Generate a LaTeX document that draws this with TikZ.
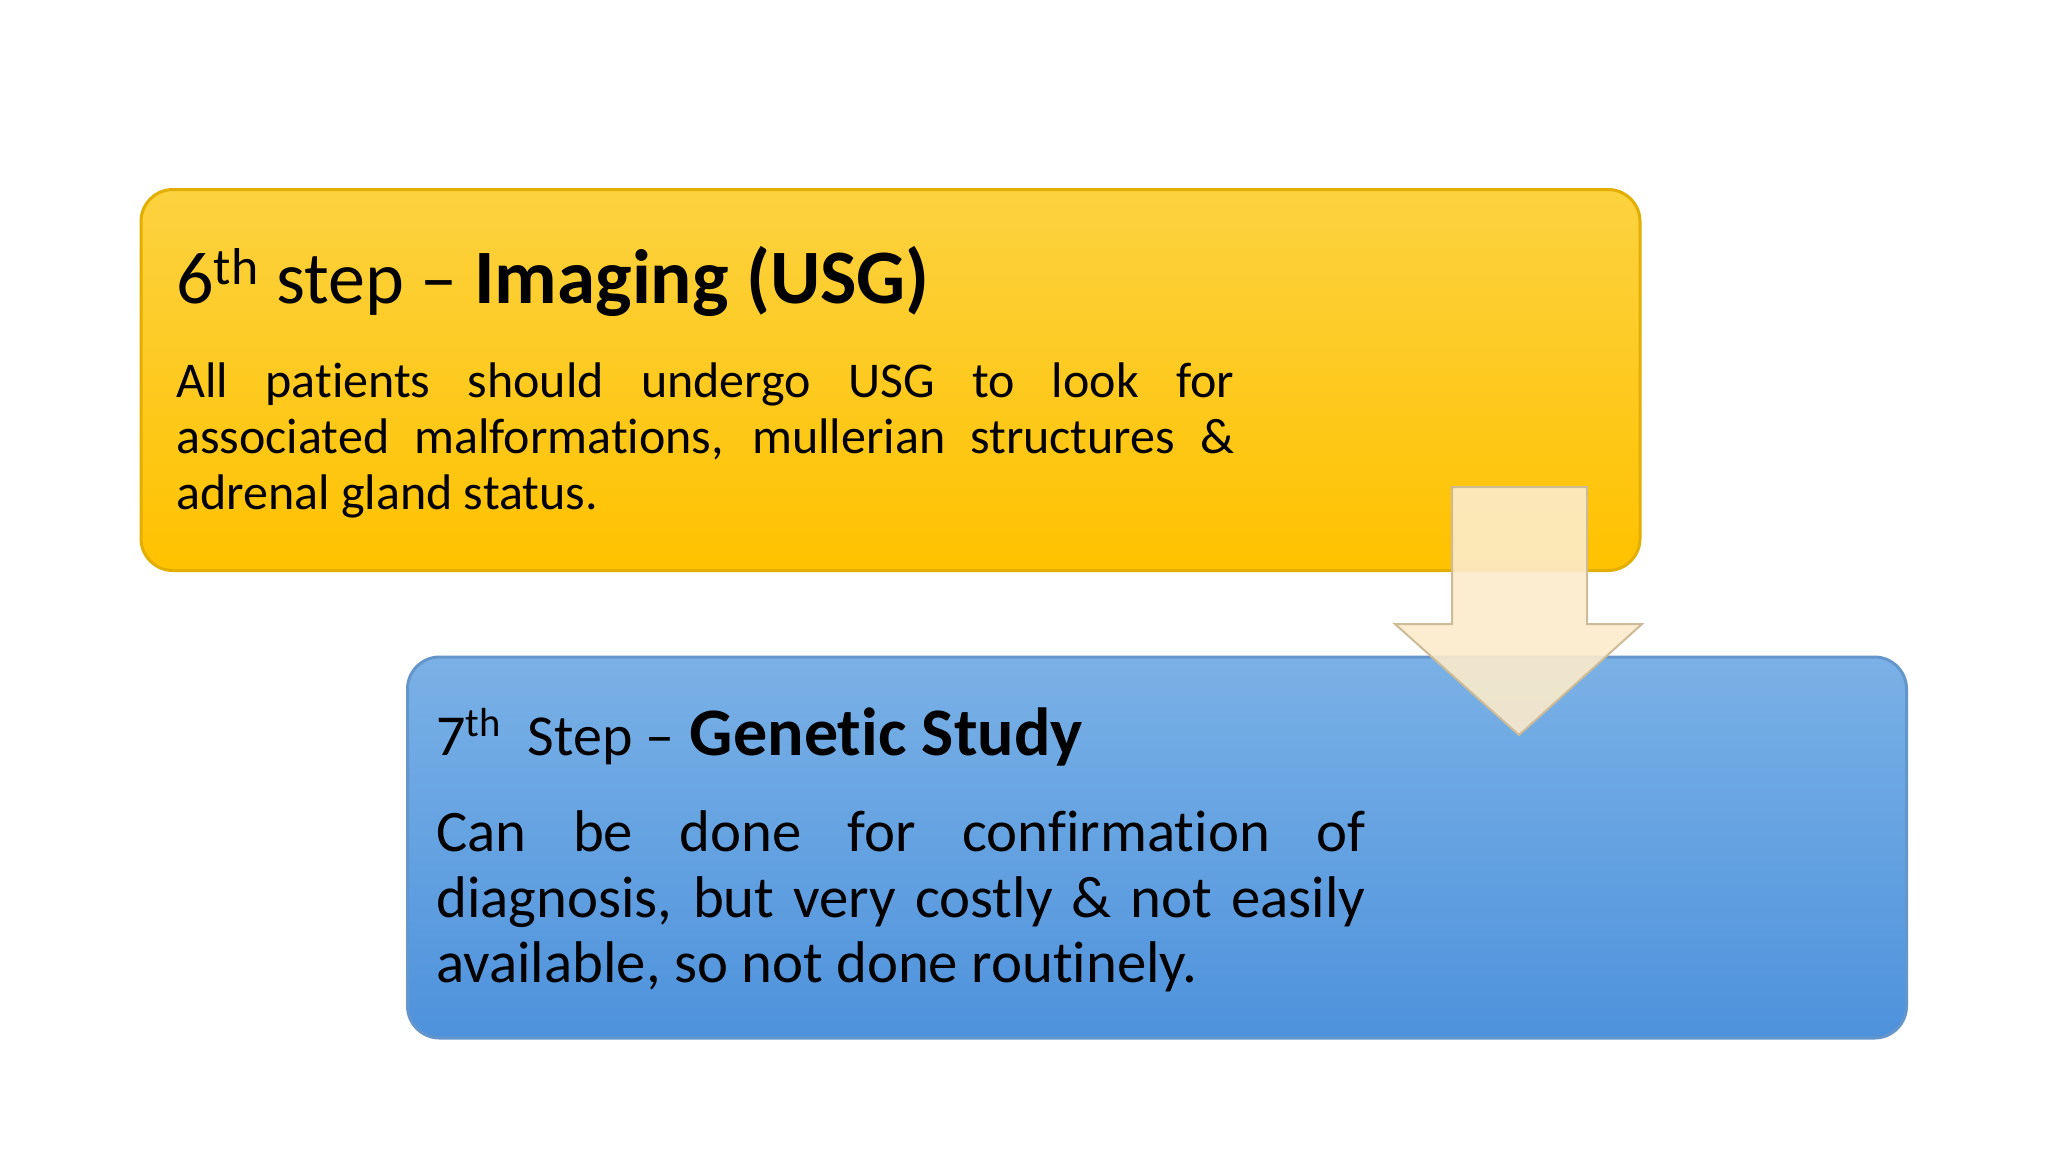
\documentclass[tikz,border=0pt]{standalone}
\usepackage{fontspec}
\setmainfont{Carlito}[Ligatures={CommonOff,ContextualOff}]
\definecolor{usgtop}{HTML}{FCD240}
\definecolor{usgbot}{HTML}{FFC200}
\definecolor{usgrim}{HTML}{E2AE00}
\definecolor{genetop}{HTML}{7AB1E6}
\definecolor{genebot}{HTML}{4E92DC}
\definecolor{generim}{HTML}{6496CC}
\definecolor{flowfill}{HTML}{FCEBCB}
\definecolor{flowrim}{HTML}{CDBB98}
\begin{document}
\begin{tikzpicture}[x=0.5pt,y=-0.5pt,
		stepbox/.style={rounded corners=16pt,line width=1.5pt,minimum width=749.5pt,minimum height=190.5pt,inner sep=0pt},
		headline/.style={anchor=base west,inner sep=0pt},
		textline/.style={anchor=base west,inner sep=0pt}]
		\useasboundingbox[fill=white] (0,0) rectangle (2048,1152);
		
		\node[stepbox,draw=usgrim,top color=usgtop,bottom color=usgbot] (usg) at (890.5,380) {};
		\node[stepbox,draw=generim,top color=genetop,bottom color=genebot] (genetic) at (1157,847.5) {};
		
		\draw[flowrim,fill=flowfill,fill opacity=0.9,line width=1pt] (1452,487) -- (1587,487) -- (1587,624) -- (1642,624) -- (1519,735) -- (1395,624) -- (1452,624) -- cycle;
		
		\node[headline,font=\fontsize{37}{42}\selectfont] (usgtitle) at (176,303) {6\textsuperscript{th} step – {\fontsize{38.5}{42}\selectfont\bfseries Imaging (USG)}};
		\node[textline,font=\fontsize{25}{28}\selectfont] (usgline1) at (176,397) {\makebox[529pt][s]{All patients should undergo USG to look for}};
		\node[textline,font=\fontsize{25}{28}\selectfont] (usgline2) at (176,453) {\makebox[529pt][s]{associated malformations, mullerian structures \&}};
		\node[textline,font=\fontsize{25}{28}\selectfont] (usgline3) at (176,509) {adrenal gland status.};
		
		\node[headline,font=\fontsize{29}{34}\selectfont] (genetictitle) at (436,755) {7\textsuperscript{th}\hspace{0.45em}Step –{\fontsize{34}{38}\selectfont\bfseries\ Genetic Study}};
		\node[textline,font=\fontsize{29.4}{33}\selectfont] (geneticline1) at (436,851) {\makebox[464.5pt][s]{Can be done for confirmation of}};
		\node[textline,font=\fontsize{29.4}{33}\selectfont] (geneticline2) at (436,917) {\makebox[464.5pt][s]{diagnosis, but very costly \& not easily}};
		\node[textline,font=\fontsize{29.4}{33}\selectfont] (geneticline3) at (436,982) {available, so not done routinely.};
		
\end{tikzpicture}
\end{document}
